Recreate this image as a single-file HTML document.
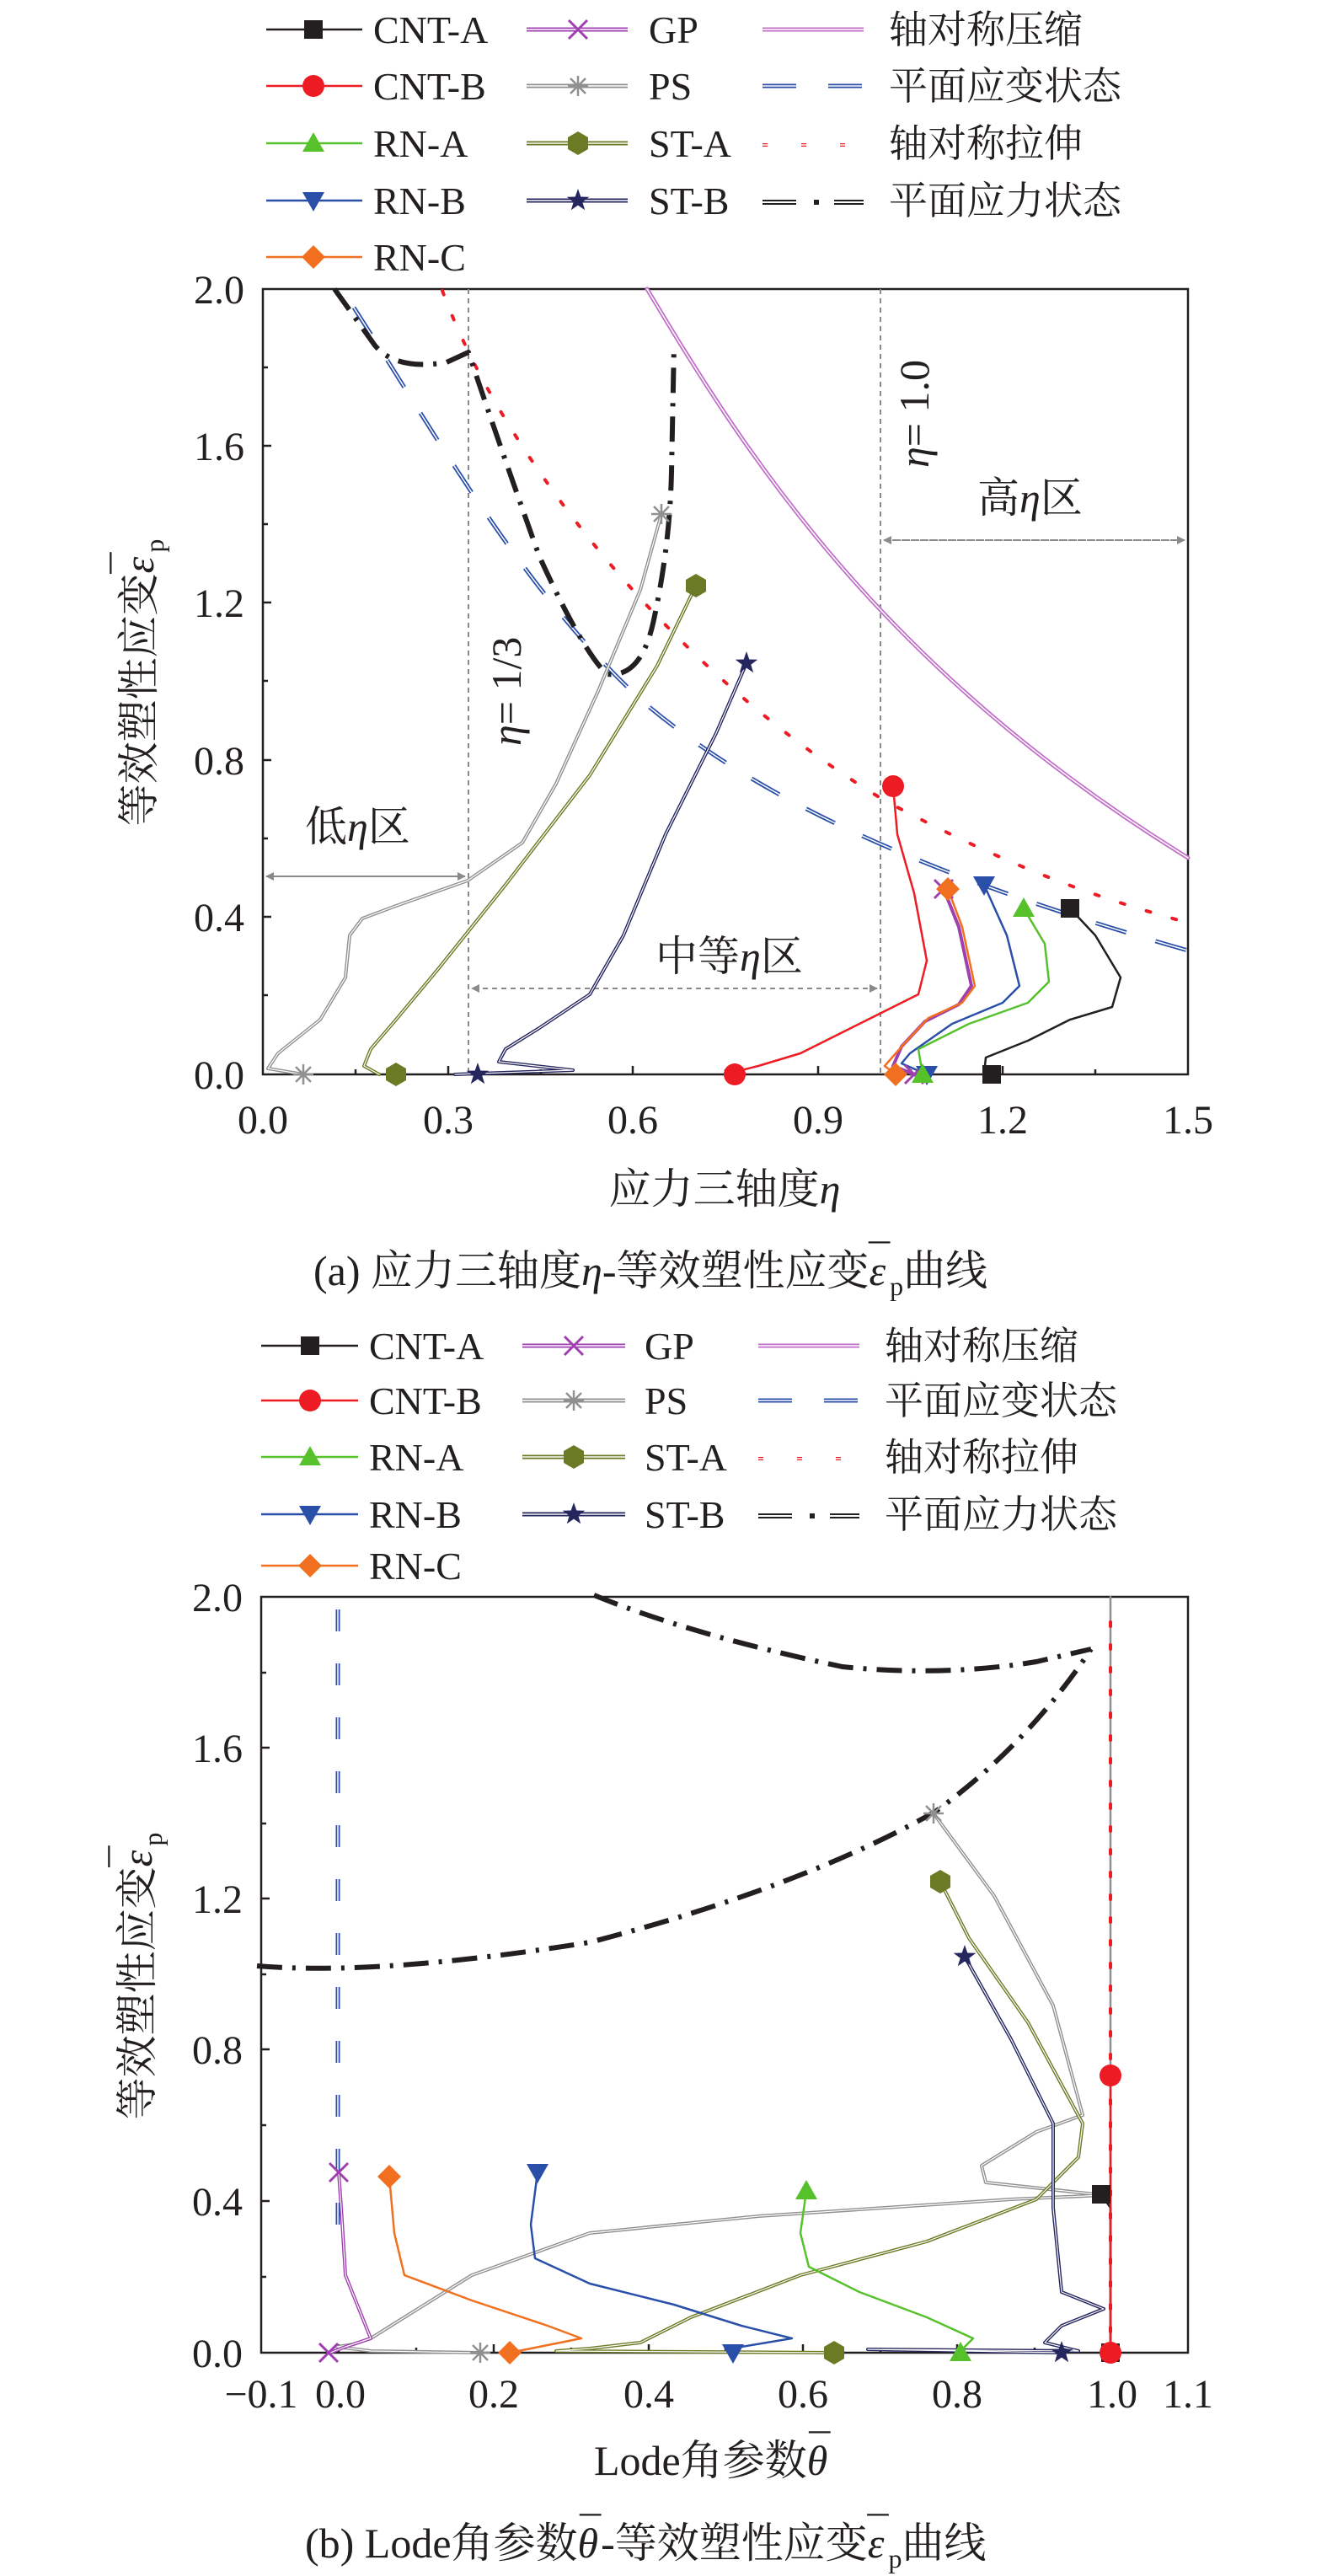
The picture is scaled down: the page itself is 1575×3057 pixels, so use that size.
<!DOCTYPE html>
<html><head><meta charset="utf-8"><style>
html,body{margin:0;padding:0;background:#fff}
svg{display:block}
text{font-family:"Liberation Serif","Noto Serif CJK SC","Noto Sans CJK SC",serif;fill:#231f20}
</style></head><body>
<svg width="1575" height="3057" viewBox="0 0 1575 3057" xmlns="http://www.w3.org/2000/svg">
<defs>
<g id="sq"><rect x="-11" y="-11" width="22" height="22" fill="#231f20"/></g>
<g id="ci"><circle r="13" fill="#ed1c24"/></g>
<g id="tu"><path d="M0,-13 L13,10 L-13,10Z" fill="#56c12a"/></g>
<g id="td"><path d="M0,13 L13,-10 L-13,-10Z" fill="#2a4fa8"/></g>
<g id="di"><path d="M0,-14 L14,0 L0,14 L-14,0Z" fill="#f07020"/></g>
<g id="xx"><path d="M-11,-11 L11,11 M11,-11 L-11,11" stroke="#a040b0" stroke-width="3"/></g>
<g id="as"><path d="M-12,0 L12,0 M0,-12 L0,12 M-9,-9 L9,9 M9,-9 L-9,9" stroke="#909090" stroke-width="2.5"/></g>
<g id="hx"><path d="M0,-14 L12,-7 L12,7 L0,14 L-12,7 L-12,-7Z" fill="#6b7a25"/></g>
<g id="st"><path d="M0,-14 L3.3,-4.5 L13.3,-4.3 L5.3,1.7 L8.2,11.3 L0,5.6 L-8.2,11.3 L-5.3,1.7 L-13.3,-4.3 L-3.3,-4.5Z" fill="#25265e"/></g>
<marker id="ah" markerWidth="10" markerHeight="10" refX="9" refY="5" orient="auto" markerUnits="userSpaceOnUse"><path d="M0,0 L10,5 L0,10Z" fill="#8a8a8a"/></marker>
</defs>

<!-- ============ LEGEND A ============ -->
<g font-size="46">
<line x1="316" y1="35" x2="430" y2="35" stroke="#231f20" stroke-width="2.5"/><use href="#sq" x="372" y="35"/><text x="443" y="51">CNT-A</text>
<line x1="316" y1="102" x2="430" y2="102" stroke="#ed1c24" stroke-width="2.5"/><use href="#ci" x="372" y="102"/><text x="443" y="118">CNT-B</text>
<line x1="316" y1="170" x2="430" y2="170" stroke="#56c12a" stroke-width="2.5"/><use href="#tu" x="372" y="170"/><text x="443" y="186">RN-A</text>
<line x1="316" y1="238" x2="430" y2="238" stroke="#2a4fa8" stroke-width="2.5"/><use href="#td" x="372" y="238"/><text x="443" y="254">RN-B</text>
<line x1="316" y1="305" x2="430" y2="305" stroke="#f07020" stroke-width="2.5"/><use href="#di" x="372" y="305"/><text x="443" y="321">RN-C</text>
<line x1="625" y1="35" x2="745" y2="35" stroke="#a040b0" stroke-width="5"/><line x1="625" y1="35" x2="745" y2="35" stroke="#fff" stroke-width="1.5"/><use href="#xx" x="686" y="35"/><text x="770" y="51">GP</text>
<line x1="625" y1="102" x2="745" y2="102" stroke="#909090" stroke-width="5"/><line x1="625" y1="102" x2="745" y2="102" stroke="#fff" stroke-width="1.5"/><use href="#as" x="686" y="102"/><text x="770" y="118">PS</text>
<line x1="625" y1="170" x2="745" y2="170" stroke="#6b7a25" stroke-width="5"/><line x1="625" y1="170" x2="745" y2="170" stroke="#fff" stroke-width="1.5"/><use href="#hx" x="686" y="170"/><text x="770" y="186">ST-A</text>
<line x1="625" y1="238" x2="745" y2="238" stroke="#25265e" stroke-width="5"/><line x1="625" y1="238" x2="745" y2="238" stroke="#fff" stroke-width="1.5"/><use href="#st" x="686" y="238"/><text x="770" y="254">ST-B</text>
<line x1="905" y1="35" x2="1025" y2="35" stroke="#c070c8" stroke-width="5"/><line x1="905" y1="35" x2="1025" y2="35" stroke="#fff" stroke-width="1.5"/><text x="1055" y="51">轴对称压缩</text>
<line x1="905" y1="102" x2="1025" y2="102" stroke="#2a4fa8" stroke-width="5" stroke-dasharray="40,38"/><line x1="905" y1="102" x2="1025" y2="102" stroke="#fff" stroke-width="1.5" stroke-dasharray="40,38"/><text x="1055" y="118">平面应变状态</text>
<line x1="905" y1="172" x2="1025" y2="172" stroke="#ed1c24" stroke-width="4" stroke-dasharray="6,40"/><line x1="905" y1="172" x2="1025" y2="172" stroke="#fff" stroke-width="1.5" stroke-dasharray="6,40"/><text x="1055" y="186">轴对称拉伸</text>
<path d="M905,240 H945 M966,240 H972 M990,240 H1025" stroke="#231f20" stroke-width="6"/><path d="M905,240 H945 M990,240 H1025" stroke="#fff" stroke-width="2"/><text x="1055" y="254">平面应力状态</text>
</g>

<!-- ============ PLOT A ============ -->
<g stroke="#231f20" stroke-width="2.5" fill="none">
<rect x="312" y="343" width="1098" height="932"/>
<path d="M312,529h10M312,715h10M312,902h10M312,1088h10M312,436h6M312,622h6M312,808h6M312,995h6M312,1181h6
M532,1275v-10M751,1275v-10M971,1275v-10M1190,1275v-10M422,1275v-6M642,1275v-6M861,1275v-6M1081,1275v-6M1300,1275v-6"/>
</g>
<g font-size="48" text-anchor="end">
<text x="290" y="360">2.0</text><text x="290" y="546">1.6</text><text x="290" y="732">1.2</text><text x="290" y="919">0.8</text><text x="290" y="1105">0.4</text><text x="290" y="1292">0.0</text>
</g>
<g font-size="48" text-anchor="middle">
<text x="312" y="1345">0.0</text><text x="532" y="1345">0.3</text><text x="751" y="1345">0.6</text><text x="971" y="1345">0.9</text><text x="1190" y="1345">1.2</text><text x="1410" y="1345">1.5</text>
<text x="860" y="1428" font-size="50">应力三轴度<tspan font-style="italic">η</tspan></text>
</g>
<text x="372" y="1525" font-size="50">(a) 应力三轴度<tspan font-style="italic">η</tspan>-等效塑性应变<tspan font-style="italic">ε</tspan><tspan dx="-20" dy="-14">¯</tspan><tspan font-size="32" dy="26">p</tspan><tspan dy="-12">曲线</tspan></text>
<text transform="translate(182,810) rotate(-90)" font-size="50" text-anchor="middle">等效塑性应变<tspan font-style="italic">ε</tspan><tspan dx="-20" dy="-14">¯</tspan><tspan font-size="32" dy="26">p</tspan></text>

<g stroke="#8a8a8a" stroke-width="2" stroke-dasharray="6,5" fill="none">
<line x1="556" y1="343" x2="556" y2="1275"/><line x1="1045" y1="343" x2="1045" y2="1275"/>
<line x1="320" y1="1040" x2="552" y2="1040" marker-end="url(#ah)"/><line x1="552" y1="1040" x2="316" y2="1040" marker-end="url(#ah)"/>
<line x1="562" y1="1173" x2="1041" y2="1173" marker-end="url(#ah)"/><line x1="1041" y1="1173" x2="560" y2="1173" marker-end="url(#ah)"/>
<line x1="1052" y1="641" x2="1406" y2="641" marker-end="url(#ah)"/><line x1="1406" y1="641" x2="1049" y2="641" marker-end="url(#ah)"/>
</g>
<g font-size="50">
<text x="362" y="998">低<tspan font-style="italic">η</tspan>区</text>
<text x="778" y="1152">中等<tspan font-style="italic">η</tspan>区</text>
<text x="1160" y="608">高<tspan font-style="italic">η</tspan>区</text>
<text transform="translate(618,885) rotate(-90)"><tspan font-style="italic">η</tspan>= 1/3</text>
<text transform="translate(1102,555) rotate(-90)"><tspan font-style="italic">η</tspan>= 1.0</text>
</g>

<g fill="none" stroke-linejoin="round" stroke-linecap="round">
<path d="M768,343 C880,530 1040,790 1410,1018" stroke="#c070c8" stroke-width="5"/>
<path d="M768,343 C880,530 1040,790 1410,1018" stroke="#fff" stroke-width="1.5"/>
<path d="M420,365 C520,520 620,700 760,830 C900,950 1100,1040 1410,1128" stroke="#2a4fa8" stroke-width="5" stroke-dasharray="38,36" stroke-linecap="butt"/>
<path d="M420,365 C520,520 620,700 760,830 C900,950 1100,1040 1410,1128" stroke="#fff" stroke-width="1.5" stroke-dasharray="38,36" stroke-linecap="butt"/>
<path d="M525,345 C560,440 620,540 700,640 C780,740 900,860 1050,950 C1200,1030 1300,1065 1410,1095" stroke="#ed1c24" stroke-width="4" stroke-dasharray="5,27"/>
<path d="M397,343 L445,410 Q470,440 530,430 L556,418 Q590,520 640,660 Q690,770 720,800 Q760,805 775,740 Q795,650 797,560 L800,410" stroke="#231f20" stroke-width="6" stroke-dasharray="30,12,4,12" stroke-linecap="butt"/>
<polyline points="785,610 760,700 710,820 660,930 620,1000 555,1045 470,1075 430,1090 415,1110 410,1160 380,1210 330,1250 318,1268 360,1275" stroke="#909090" stroke-width="4"/>
<polyline points="785,610 760,700 710,820 660,930 620,1000 555,1045 470,1075 430,1090 415,1110 410,1160 380,1210 330,1250 318,1268 360,1275" stroke="#fff" stroke-width="1.2"/>
<polyline points="826,695 780,790 700,920 600,1050 520,1150 470,1210 440,1245 432,1265 450,1275" stroke="#6b7a25" stroke-width="4"/>
<polyline points="826,695 780,790 700,920 600,1050 520,1150 470,1210 440,1245 432,1265 450,1275" stroke="#fff" stroke-width="1.2"/>
<polyline points="886,787 850,870 790,990 740,1110 700,1180 640,1220 600,1245 592,1260 680,1270 540,1275" stroke="#25265e" stroke-width="4"/>
<polyline points="886,787 850,870 790,990 740,1110 700,1180 640,1220 600,1245 592,1260 680,1270 540,1275" stroke="#fff" stroke-width="1.2"/>
<polyline points="1060,933 1065,990 1085,1060 1100,1140 1090,1180 1040,1205 1000,1225 950,1250 900,1265 872,1272" stroke="#ed1c24" stroke-width="2.5"/>
<polyline points="1120,1055 1138,1100 1153,1170 1138,1192 1098,1212 1070,1242 1060,1265 1085,1275" stroke="#a040b0" stroke-width="4"/>
<polyline points="1125,1055 1142,1100 1157,1170 1142,1190 1102,1208 1072,1240 1050,1265 1063,1275" stroke="#f07020" stroke-width="2.5"/>
<polyline points="1168,1050 1195,1110 1210,1170 1190,1190 1130,1215 1080,1250 1070,1262 1100,1275" stroke="#2a4fa8" stroke-width="2.5"/>
<polyline points="1215,1078 1240,1120 1245,1165 1220,1190 1150,1215 1090,1245 1095,1275" stroke="#56c12a" stroke-width="2.5"/>
<polyline points="1270,1078 1300,1110 1330,1160 1320,1195 1270,1210 1220,1235 1170,1255 1168,1275" stroke="#231f20" stroke-width="2.5"/>
</g>
<use href="#as" x="785" y="610"/><use href="#as" x="360" y="1275"/>
<use href="#hx" x="826" y="695"/><use href="#hx" x="470" y="1275"/>
<use href="#st" x="886" y="787"/><use href="#st" x="567" y="1275"/>
<use href="#ci" x="1060" y="933"/><use href="#ci" x="872" y="1275"/>
<use href="#xx" x="1120" y="1055"/><use href="#xx" x="1085" y="1275"/>
<use href="#di" x="1125" y="1055"/><use href="#di" x="1063" y="1275"/>
<use href="#td" x="1168" y="1050"/><use href="#td" x="1100" y="1275"/>
<use href="#tu" x="1215" y="1078"/><use href="#tu" x="1095" y="1275"/>
<use href="#sq" x="1270" y="1078"/><use href="#sq" x="1177" y="1275"/>

<!-- ============ LEGEND B ============ -->
<g font-size="46">
<line x1="310" y1="1597" x2="425" y2="1597" stroke="#231f20" stroke-width="2.5"/><use href="#sq" x="368" y="1597"/><text x="438" y="1613">CNT-A</text>
<line x1="310" y1="1662" x2="425" y2="1662" stroke="#ed1c24" stroke-width="2.5"/><use href="#ci" x="368" y="1662"/><text x="438" y="1678">CNT-B</text>
<line x1="310" y1="1729" x2="425" y2="1729" stroke="#56c12a" stroke-width="2.5"/><use href="#tu" x="368" y="1729"/><text x="438" y="1745">RN-A</text>
<line x1="310" y1="1797" x2="425" y2="1797" stroke="#2a4fa8" stroke-width="2.5"/><use href="#td" x="368" y="1797"/><text x="438" y="1813">RN-B</text>
<line x1="310" y1="1858" x2="425" y2="1858" stroke="#f07020" stroke-width="2.5"/><use href="#di" x="368" y="1858"/><text x="438" y="1874">RN-C</text>
<line x1="620" y1="1597" x2="742" y2="1597" stroke="#a040b0" stroke-width="5"/><line x1="620" y1="1597" x2="742" y2="1597" stroke="#fff" stroke-width="1.5"/><use href="#xx" x="681" y="1597"/><text x="765" y="1613">GP</text>
<line x1="620" y1="1662" x2="742" y2="1662" stroke="#909090" stroke-width="5"/><line x1="620" y1="1662" x2="742" y2="1662" stroke="#fff" stroke-width="1.5"/><use href="#as" x="681" y="1662"/><text x="765" y="1678">PS</text>
<line x1="620" y1="1729" x2="742" y2="1729" stroke="#6b7a25" stroke-width="5"/><line x1="620" y1="1729" x2="742" y2="1729" stroke="#fff" stroke-width="1.5"/><use href="#hx" x="681" y="1729"/><text x="765" y="1745">ST-A</text>
<line x1="620" y1="1797" x2="742" y2="1797" stroke="#25265e" stroke-width="5"/><line x1="620" y1="1797" x2="742" y2="1797" stroke="#fff" stroke-width="1.5"/><use href="#st" x="681" y="1797"/><text x="765" y="1813">ST-B</text>
<line x1="900" y1="1597" x2="1020" y2="1597" stroke="#c070c8" stroke-width="5"/><line x1="900" y1="1597" x2="1020" y2="1597" stroke="#fff" stroke-width="1.5"/><text x="1050" y="1613">轴对称压缩</text>
<line x1="900" y1="1662" x2="1020" y2="1662" stroke="#2a4fa8" stroke-width="5" stroke-dasharray="40,38"/><line x1="900" y1="1662" x2="1020" y2="1662" stroke="#fff" stroke-width="1.5" stroke-dasharray="40,38"/><text x="1050" y="1678">平面应变状态</text>
<line x1="900" y1="1731" x2="1020" y2="1731" stroke="#ed1c24" stroke-width="4" stroke-dasharray="6,40"/><line x1="900" y1="1731" x2="1020" y2="1731" stroke="#fff" stroke-width="1.5" stroke-dasharray="6,40"/><text x="1050" y="1745">轴对称拉伸</text>
<path d="M900,1799 H940 M961,1799 H967 M985,1799 H1020" stroke="#231f20" stroke-width="6"/><path d="M900,1799 H940 M985,1799 H1020" stroke="#fff" stroke-width="2"/><text x="1050" y="1813">平面应力状态</text>
</g>

<!-- ============ PLOT B ============ -->
<g stroke="#231f20" stroke-width="2.5" fill="none">
<rect x="310" y="1895" width="1100" height="897"/>
<path d="M310,2074h10M310,2253h10M310,2432h10M310,2612h10M310,1985h6M310,2164h6M310,2343h6M310,2522h6M310,2702h6
M402,2792v-10M586,2792v-10M770,2792v-10M953,2792v-10M1136,2792v-10M1320,2792v-10M494,2792v-6M678,2792v-6M861,2792v-6M1045,2792v-6M1228,2792v-6"/>
</g>
<g font-size="48" text-anchor="end">
<text x="288" y="1912">2.0</text><text x="288" y="2091">1.6</text><text x="288" y="2270">1.2</text><text x="288" y="2449">0.8</text><text x="288" y="2629">0.4</text><text x="288" y="2809">0.0</text>
</g>
<g font-size="48" text-anchor="middle">
<text x="310" y="2857">−0.1</text><text x="404" y="2857">0.0</text><text x="586" y="2857">0.2</text><text x="770" y="2857">0.4</text><text x="953" y="2857">0.6</text><text x="1136" y="2857">0.8</text><text x="1320" y="2857">1.0</text><text x="1410" y="2857">1.1</text>
</g>
<text x="705" y="2937" font-size="50">Lode角参数<tspan font-style="italic">θ</tspan><tspan dx="-22" dy="-14">¯</tspan></text>
<text x="362" y="3035" font-size="50">(b) Lode角参数<tspan font-style="italic">θ</tspan><tspan dx="-22" dy="-14">¯</tspan><tspan dy="14">-等效塑性应变</tspan><tspan font-style="italic">ε</tspan><tspan dx="-20" dy="-14">¯</tspan><tspan font-size="32" dy="26">p</tspan><tspan dy="-12">曲线</tspan></text>
<text transform="translate(180,2345) rotate(-90)" font-size="50" text-anchor="middle">等效塑性应变<tspan font-style="italic">ε</tspan><tspan dx="-20" dy="-14">¯</tspan><tspan font-size="32" dy="26">p</tspan></text>

<g fill="none" stroke-linejoin="round" stroke-linecap="round">
<line x1="1318" y1="1895" x2="1318" y2="2792" stroke="#909090" stroke-width="2.5"/>
<line x1="1318" y1="1925" x2="1318" y2="2792" stroke="#ed1c24" stroke-width="4" stroke-dasharray="5,22"/>
<line x1="401" y1="1910" x2="401" y2="2640" stroke="#2a4fa8" stroke-width="5" stroke-dasharray="26,38" stroke-linecap="butt"/>
<line x1="401" y1="1910" x2="401" y2="2640" stroke="#fff" stroke-width="1.5" stroke-dasharray="26,38" stroke-linecap="butt"/>
<path d="M705,1893 Q820,1940 1000,1978 Q1120,1990 1230,1972 L1295,1957" stroke="#231f20" stroke-width="6" stroke-dasharray="30,12,4,12" stroke-linecap="butt"/>
<path d="M305,2333 Q450,2345 700,2305 Q950,2240 1110,2150 Q1220,2070 1295,1957" stroke="#231f20" stroke-width="6" stroke-dasharray="30,12,4,12" stroke-linecap="butt"/>
<polyline points="1108,2152 1180,2250 1250,2380 1285,2510 1230,2530 1165,2570 1170,2590 1310,2605 1200,2610 900,2630 700,2650 560,2700 480,2750 440,2775 420,2782 400,2785 440,2790 570,2792" stroke="#909090" stroke-width="4"/>
<polyline points="1108,2152 1180,2250 1250,2380 1285,2510 1230,2530 1165,2570 1170,2590 1310,2605 1200,2610 900,2630 700,2650 560,2700 480,2750 440,2775 420,2782 400,2785 440,2790 570,2792" stroke="#fff" stroke-width="1.2"/>
<polyline points="1116,2233 1150,2300 1220,2400 1285,2520 1280,2560 1230,2610 1100,2660 950,2700 820,2750 760,2780 700,2787 660,2790 990,2792" stroke="#6b7a25" stroke-width="4"/>
<polyline points="1116,2233 1150,2300 1220,2400 1285,2520 1280,2560 1230,2610 1100,2660 950,2700 820,2750 760,2780 700,2787 660,2790 990,2792" stroke="#fff" stroke-width="1.2"/>
<polyline points="1145,2322 1200,2420 1250,2520 1250,2620 1260,2720 1310,2740 1260,2760 1240,2780 1280,2790 1030,2788 1260,2792" stroke="#25265e" stroke-width="4"/>
<polyline points="1145,2322 1200,2420 1250,2520 1250,2620 1260,2720 1310,2740 1260,2760 1240,2780 1280,2790 1030,2788 1260,2792" stroke="#fff" stroke-width="1.2"/>
<polyline points="402,2578 405,2620 410,2700 430,2750 440,2775 410,2785 392,2792" stroke="#a040b0" stroke-width="4"/>
<polyline points="402,2578 405,2620 410,2700 430,2750 440,2775 410,2785 392,2792" stroke="#fff" stroke-width="1.2"/>
<polyline points="462,2583 468,2650 480,2700 560,2730 650,2760 690,2775 640,2785 605,2792" stroke="#f07020" stroke-width="2.5"/>
<polyline points="638,2578 630,2640 635,2680 700,2710 800,2735 880,2760 940,2775 880,2785 870,2792" stroke="#2a4fa8" stroke-width="2.5"/>
<polyline points="957,2600 950,2650 960,2690 1020,2720 1100,2750 1155,2775 1140,2790" stroke="#56c12a" stroke-width="2.5"/>
<polyline points="1307,2604 1318,2620 1318,2792" stroke="#231f20" stroke-width="2.5"/>
<polyline points="1318,2463 1318,2792" stroke="#ed1c24" stroke-width="2.5"/>
</g>
<use href="#as" x="1108" y="2152"/><use href="#as" x="570" y="2792"/>
<use href="#hx" x="1116" y="2233"/><use href="#hx" x="990" y="2792"/>
<use href="#st" x="1145" y="2322"/><use href="#st" x="1260" y="2792"/>
<use href="#xx" x="402" y="2578"/><use href="#xx" x="390" y="2792"/>
<use href="#di" x="462" y="2583"/><use href="#di" x="605" y="2792"/>
<use href="#td" x="638" y="2578"/><use href="#td" x="870" y="2792"/>
<use href="#tu" x="957" y="2600"/><use href="#tu" x="1140" y="2792"/>
<use href="#sq" x="1307" y="2604"/><use href="#sq" x="1318" y="2792"/>
<use href="#ci" x="1318" y="2463"/><use href="#ci" x="1318" y="2792"/>
</svg>
</body></html>
